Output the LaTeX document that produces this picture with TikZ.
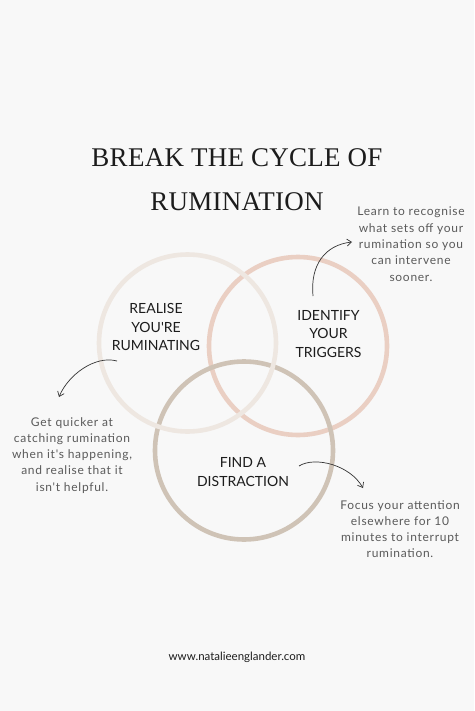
\documentclass[tikz,border=0pt]{standalone}
\usepackage{fontspec}
\setmainfont{Liberation Serif}
\newfontfamily\latofont{Lato}
\usepackage{xcolor}
\usetikzlibrary{arrows.meta}
\definecolor{PaperGry}{HTML}{F8F8F8}
\definecolor{RingCrm} {HTML}{EEE7E1}
\definecolor{RingPnk} {HTML}{EACFC3}
\definecolor{RingTpe} {HTML}{CFC3B6}
\definecolor{InkBlk}  {HTML}{1C1C1C}
\definecolor{NoteGry} {HTML}{5A5A5A}
\definecolor{CurlBlk} {HTML}{333333}

\begin{document}
\begin{tikzpicture}[
  x=1pt, y=-1pt, >={Straight Barb[length=4.5pt,width=7pt]},
  every node/.style={align=center, inner sep=0pt},
  ring/.style    = {circle, line width=4.6pt, inner sep=0pt},
  headline/.style= {font=\addfontfeatures{LetterSpace=1}\fontsize{27}{30}\selectfont,
                   text=InkBlk, anchor=base},
  phase/.style   = {font=\latofont\fontsize{14}{18.3}\selectfont, text=InkBlk},
  note/.style    = {font=\latofont\addfontfeatures{LetterSpace=6}\fontsize{12}{16.3}\selectfont,
                   text=NoteGry, anchor=north},
  curl/.style    = {->, line width=0.7pt, CurlBlk},
]
\fill[PaperGry] (0,0) rectangle (474,711);

\node[ring, draw=RingPnk, minimum size=178pt] (trig) at (298,346)   {};
\node[ring, draw=RingTpe, minimum size=178pt] (dist) at (244,450.5) {};
\node[ring, draw=RingCrm, minimum size=177pt] (real) at (187.5,343) {};

\node[headline] (title1) at (237,167) {BREAK THE CYCLE OF};
\node[headline] (title2) at (237,211) {RUMINATION};

\node[phase] (realtxt) at (156,327)   {REALISE\\YOU'RE\\RUMINATING};
\node[phase] (trigtxt) at (328.5,334) {IDENTIFY\\YOUR\\TRIGGERS};
\node[phase] (disttxt) at (243,472)   {FIND A\\DISTRACTION};

\node[note] (trignote) at (411,207) {Learn to recognise\\what sets off your\\rumination so you\\can intervene\\sooner.};
\node[note] (realnote) at (72,417)  {Get quicker at\\catching rumination\\when it's happening,\\and realise that it\\isn't helpful.};
\node[note] (distnote) at (400,500) {Focus your attention\\elsewhere for 10\\minutes to interrupt\\rumination.};

\node[font=\latofont\fontsize{11.5}{14}\selectfont, text=InkBlk] (web) at (237,657)
     {www.natalieenglander.com};

\coordinate (t1) at (313,296);   \coordinate (t2) at (352,242);
\coordinate (r1) at (117,361);   \coordinate (r2) at (59,397);
\coordinate (d1) at (299,466);   \coordinate (d2) at (363,488);
\draw[curl] (t1) .. controls +(-3,-31) and +(-27,3)  .. (t2);
\draw[curl] (r1) .. controls +(-22,-6) and +(9,-22)  .. (r2);
\draw[curl] (d1) .. controls +(16,-10) and +(-13,-23) .. (d2);
\end{tikzpicture}
\end{document}
